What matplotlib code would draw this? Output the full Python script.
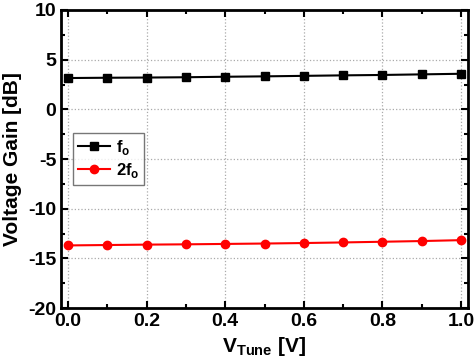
import matplotlib.pyplot as plt
from matplotlib.ticker import MultipleLocator

plt.rcParams['font.family'] = ['Liberation Sans', 'DejaVu Sans']
plt.rcParams['font.weight'] = 'bold'
plt.rcParams['mathtext.fontset'] = 'custom'
plt.rcParams['mathtext.rm'] = 'Liberation Sans:bold'
plt.rcParams['mathtext.bf'] = 'Liberation Sans:bold'

v_tune = [0.0, 0.1, 0.2, 0.3, 0.4, 0.5, 0.6, 0.7, 0.8, 0.9, 1.0]
gain_fo = [3.15, 3.18, 3.20, 3.23, 3.28, 3.32, 3.37, 3.42, 3.46, 3.52, 3.58]
gain_2fo = [-13.70, -13.66, -13.62, -13.59, -13.55, -13.51, -13.46, -13.40, -13.33, -13.26, -13.17]

fig = plt.figure(figsize=(4.74, 3.62), dpi=100)
ax = fig.add_axes([61 / 474, 1 - 308 / 362, (468 - 61) / 474, (308 - 10) / 362])

ax.plot(v_tune, gain_fo, color='black', marker='s', markersize=5.5, lw=1.5,
        label=r'f$_\mathrm{o}$')
ax.plot(v_tune, gain_2fo, color='red', marker='o', markersize=6, lw=1.5,
        label=r'2f$_\mathrm{o}$')

ax.set_xlim(-0.018, 1.018)
ax.set_ylim(-20, 10)
ax.xaxis.set_major_locator(MultipleLocator(0.2))
ax.xaxis.set_minor_locator(MultipleLocator(0.1))
ax.yaxis.set_major_locator(MultipleLocator(5))
ax.yaxis.set_minor_locator(MultipleLocator(2.5))
ax.xaxis.set_major_formatter(plt.FuncFormatter(lambda v, p: f'{v:.1f}'))
ax.yaxis.set_major_formatter(plt.FuncFormatter(lambda v, p: f'{v:.0f}'))

ax.tick_params(which='both', direction='in', top=True, right=True, width=1.5,
               labelsize=14)
ax.tick_params(which='major', length=5)
ax.tick_params(which='minor', length=3)
for s in ax.spines.values():
    s.set_linewidth(2)

ax.grid(True, which='major', linestyle=':', color='#aaaaaa', lw=0.9)

ax.set_xlabel(r'V$_\mathrm{Tune}$ [V]', fontsize=15, fontweight='bold')
ax.set_ylabel('Voltage Gain [dB]', fontsize=15, fontweight='bold')

leg = ax.legend(loc='upper left', bbox_to_anchor=(0.03, 0.587), fontsize=12,
                frameon=True, fancybox=False, handlelength=1.9,
                handletextpad=0.35, borderpad=0.3, labelspacing=0.25,
                borderaxespad=0)
leg.get_frame().set_edgecolor('#555555')
leg.get_frame().set_linewidth(1.0)

fig.savefig('out.png', dpi=100)
